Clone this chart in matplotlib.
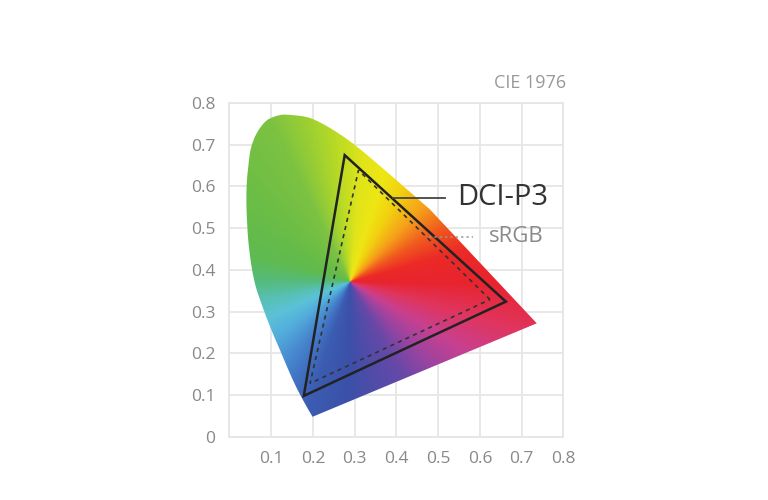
import numpy as np
import matplotlib
matplotlib.use("Agg")
import matplotlib.pyplot as plt
from matplotlib.colors import LinearSegmentedColormap
from matplotlib.patches import Polygon, PathPatch
from matplotlib.path import Path

plt.rcParams['font.family'] = ['Open Sans', 'DejaVu Sans']

# spectral locus outline, curved part then red tip
locus_x = [0.199, 0.175, 0.150, 0.121, 0.098, 0.078, 0.063, 0.053, 0.045, 0.041,
           0.041, 0.045, 0.051, 0.065, 0.089, 0.121, 0.150, 0.193, 0.241, 0.289,
           0.330, 0.400, 0.480]
locus_y = [0.048, 0.090, 0.140, 0.208, 0.262, 0.315, 0.360, 0.407, 0.471, 0.543,
           0.599, 0.647, 0.690, 0.727, 0.758, 0.771, 0.771, 0.764, 0.740, 0.708,
           0.675, 0.615, 0.545]
red_tip = (0.736, 0.272)
white_point = (0.289, 0.372)

# gamut triangles (R, G, B)
dci_x = [0.662, 0.276, 0.178]
dci_y = [0.324, 0.675, 0.098]
srgb_x = [0.624, 0.309, 0.193]
srgb_y = [0.329, 0.639, 0.128]

ticks = [0, 0.1, 0.2, 0.3, 0.4, 0.5, 0.6, 0.7, 0.8]
x_labels = ['', '0.1', '0.2', '0.3', '0.4', '0.5', '0.6', '0.7', '0.8']
y_labels = ['0', '0.1', '0.2', '0.3', '0.4', '0.5', '0.6', '0.7', '0.8']

# hue around the white point, angle in degrees
hue_pos = [0, 15, 30, 45, 60, 72, 84, 97, 116, 140, 165, 180, 192, 204, 218,
           235, 252, 270, 300, 315, 330, 345, 360]
hue_col = ['#e8242e', '#ec2a26', '#f05a1e', '#f5a01a', '#f2d010', '#eee614',
           '#e0e41a', '#b4d927', '#7cc242', '#6abd46', '#5fba50', '#55bb7e',
           '#58c0b4', '#5bc2d8', '#52acdc', '#4682cc', '#3b5cb2', '#3c50a8',
           '#6848a8', '#9b44a0', '#c84090', '#e0355e', '#e8242e']

cmap = LinearSegmentedColormap.from_list(
    'hue', list(zip(np.array(hue_pos) / 360.0, hue_col)))


def smooth_outline(xs, ys, tip):
    # catmull-rom through the curved edge, straight lines to the tip and back
    p = np.column_stack([xs, ys])
    pts = np.vstack([p[0], p, p[-1]])
    verts = [p[0]]
    codes = [Path.MOVETO]
    for i in range(1, len(pts) - 2):
        p0, p1, p2, p3 = pts[i - 1], pts[i], pts[i + 1], pts[i + 2]
        verts += [p1 + (p2 - p0) / 6, p2 - (p3 - p1) / 6, p2]
        codes += [Path.CURVE4] * 3
    verts += [tip, p[0]]
    codes += [Path.LINETO, Path.CLOSEPOLY]
    return Path(verts, codes)


fig = plt.figure(figsize=(7.68, 5), dpi=100)
ax = fig.add_axes([0.2988, 0.1264, 0.4349, 0.6676])

n = 700
gx, gy = np.meshgrid(np.linspace(0, 0.8, n), np.linspace(0, 0.8, n))
ang = np.degrees(np.arctan2(gy - white_point[1], gx - white_point[0])) % 360
im = ax.imshow(ang / 360.0, extent=[0, 0.8, 0, 0.8], origin='lower',
               cmap=cmap, vmin=0, vmax=1, interpolation='bilinear', zorder=2)
locus = PathPatch(smooth_outline(locus_x, locus_y, red_tip),
                  facecolor='none', edgecolor='none')
ax.add_patch(locus)
im.set_clip_path(locus)

ax.add_patch(Polygon(np.column_stack([dci_x, dci_y]), closed=True, fill=False,
                     edgecolor='#222222', lw=1.8, joinstyle='miter', zorder=4))
ax.add_patch(Polygon(np.column_stack([srgb_x, srgb_y]), closed=True, fill=False,
                     edgecolor='#333333', lw=1.2, ls=(0, (2.5, 2.5)), zorder=4))

# labels with leader lines
ax.plot([0.392, 0.516], [0.572, 0.572], color='#444444', lw=1.3,
        clip_on=False, zorder=5)
ax.text(0.545, 0.574, 'DCI-P3', fontsize=21, color='#333333',
        ha='left', va='center', zorder=5)
ax.plot([0.478, 0.583], [0.478, 0.478], color='#999999', lw=1.1,
        ls=(0, (1.5, 2)), clip_on=False, zorder=5)
ax.text(0.622, 0.480, 'sRGB', fontsize=16, color='#8a8a8a',
        ha='left', va='center', zorder=5)
ax.text(0.806, 0.849, 'CIE 1976', fontsize=13, color='#999999',
        ha='right', va='center', clip_on=False)

ax.set_xlim(0, 0.8)
ax.set_ylim(0, 0.8)
ax.set_aspect('auto')
ax.set_xticks(ticks)
ax.set_xticklabels(x_labels)
ax.set_yticks(ticks)
ax.set_yticklabels(y_labels)
ax.tick_params(length=0, labelsize=12.5, labelcolor='#888888', pad=10)
ax.grid(True, color='#e6e6e6', lw=1.3, zorder=0)
ax.set_axisbelow(True)
for s in ax.spines.values():
    s.set_color('#e6e6e6')
    s.set_linewidth(1.3)

fig.savefig('out.png', dpi=100)
